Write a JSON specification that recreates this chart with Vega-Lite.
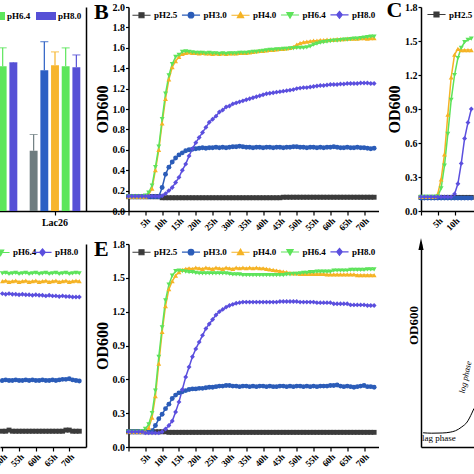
{
  "$schema": "https://vega.github.io/schema/vega-lite/v6.json",
  "padding": {"left": -15, "top": -1, "right": 0, "bottom": 0},
  "background": "white",
  "config": {
    "font": "Liberation Serif",
    "view": {"stroke": null},
    "axis": {"labelFont": "Liberation Serif", "labelFontWeight": "bold", "labelColor": "black", "titleFont": "Liberation Serif", "titleFontWeight": "bold", "titleColor": "black", "domainColor": "black", "tickColor": "black", "grid": false, "domainWidth": 1.5, "tickWidth": 1.2},
    "legend": {"labelFont": "Liberation Serif", "labelFontWeight": "bold", "labelColor": "black", "labelFontSize": 9},
    "title": {"font": "Liberation Serif", "fontWeight": "bold", "fontSize": 22, "color": "black", "anchor": "start", "frame": "bounds"},
    "point": {"filled": true, "size": 24, "opacity": 1}
  },
  "datasets": {
    "bars": [
      {"g": "Lac24", "s": "pH6.4", "v": 1.42, "e": 1.60},
      {"g": "Lac24", "s": "pH8.0", "v": 1.45, "e": 1.455},
      {"g": "Lac26", "s": "pH2.5", "v": 0.59, "e": 0.75},
      {"g": "Lac26", "s": "pH3.0", "v": 1.38, "e": 1.66},
      {"g": "Lac26", "s": "pH4.0", "v": 1.43, "e": 1.56},
      {"g": "Lac26", "s": "pH6.4", "v": 1.42, "e": 1.60},
      {"g": "Lac26", "s": "pH8.0", "v": 1.41, "e": 1.53}
    ],
    "lac16": [
      {"h":0,"s":"pH2.5","v":0.14},{"h":1,"s":"pH2.5","v":0.14},{"h":2,"s":"pH2.5","v":0.14},{"h":3,"s":"pH2.5","v":0.14},{"h":4,"s":"pH2.5","v":0.14},{"h":5,"s":"pH2.5","v":0.14},{"h":6,"s":"pH2.5","v":0.14},{"h":7,"s":"pH2.5","v":0.14},{"h":8,"s":"pH2.5","v":0.14},{"h":9,"s":"pH2.5","v":0.14},
      {"h":10,"s":"pH2.5","v":0.13},{"h":11,"s":"pH2.5","v":0.13},{"h":12,"s":"pH2.5","v":0.13},{"h":13,"s":"pH2.5","v":0.13},{"h":14,"s":"pH2.5","v":0.13},{"h":15,"s":"pH2.5","v":0.13},{"h":16,"s":"pH2.5","v":0.13},{"h":17,"s":"pH2.5","v":0.13},{"h":18,"s":"pH2.5","v":0.13},{"h":19,"s":"pH2.5","v":0.13},
      {"h":20,"s":"pH2.5","v":0.13},{"h":21,"s":"pH2.5","v":0.13},{"h":22,"s":"pH2.5","v":0.13},{"h":23,"s":"pH2.5","v":0.13},{"h":24,"s":"pH2.5","v":0.13},{"h":25,"s":"pH2.5","v":0.13},{"h":26,"s":"pH2.5","v":0.13},{"h":27,"s":"pH2.5","v":0.13},{"h":28,"s":"pH2.5","v":0.13},{"h":29,"s":"pH2.5","v":0.13},
      {"h":30,"s":"pH2.5","v":0.13},{"h":31,"s":"pH2.5","v":0.13},{"h":32,"s":"pH2.5","v":0.13},{"h":33,"s":"pH2.5","v":0.13},{"h":34,"s":"pH2.5","v":0.13},{"h":35,"s":"pH2.5","v":0.13},{"h":36,"s":"pH2.5","v":0.13},{"h":37,"s":"pH2.5","v":0.13},{"h":38,"s":"pH2.5","v":0.13},{"h":39,"s":"pH2.5","v":0.13},
      {"h":40,"s":"pH2.5","v":0.13},{"h":41,"s":"pH2.5","v":0.13},{"h":42,"s":"pH2.5","v":0.13},{"h":43,"s":"pH2.5","v":0.13},{"h":44,"s":"pH2.5","v":0.13},{"h":45,"s":"pH2.5","v":0.13},{"h":46,"s":"pH2.5","v":0.135},{"h":47,"s":"pH2.5","v":0.135},{"h":48,"s":"pH2.5","v":0.135},{"h":49,"s":"pH2.5","v":0.135},
      {"h":50,"s":"pH2.5","v":0.135},{"h":51,"s":"pH2.5","v":0.135},{"h":52,"s":"pH2.5","v":0.135},{"h":53,"s":"pH2.5","v":0.135},{"h":54,"s":"pH2.5","v":0.135},{"h":55,"s":"pH2.5","v":0.135},{"h":56,"s":"pH2.5","v":0.135},{"h":57,"s":"pH2.5","v":0.135},{"h":58,"s":"pH2.5","v":0.135},{"h":59,"s":"pH2.5","v":0.135},
      {"h":60,"s":"pH2.5","v":0.135},{"h":61,"s":"pH2.5","v":0.135},{"h":62,"s":"pH2.5","v":0.135},{"h":63,"s":"pH2.5","v":0.135},{"h":64,"s":"pH2.5","v":0.135},{"h":65,"s":"pH2.5","v":0.135},{"h":66,"s":"pH2.5","v":0.135},{"h":67,"s":"pH2.5","v":0.135},{"h":68,"s":"pH2.5","v":0.135},{"h":69,"s":"pH2.5","v":0.135},
      {"h":70,"s":"pH2.5","v":0.135},{"h":71,"s":"pH2.5","v":0.135},{"h":72,"s":"pH2.5","v":0.135},{"h":73,"s":"pH2.5","v":0.135},

      {"h":0,"s":"pH3.0","v":0.14},{"h":1,"s":"pH3.0","v":0.14},{"h":2,"s":"pH3.0","v":0.14},{"h":3,"s":"pH3.0","v":0.14},{"h":4,"s":"pH3.0","v":0.14},{"h":5,"s":"pH3.0","v":0.14},{"h":6,"s":"pH3.0","v":0.14},{"h":7,"s":"pH3.0","v":0.14},{"h":8,"s":"pH3.0","v":0.14},{"h":9,"s":"pH3.0","v":0.14},
      {"h":10,"s":"pH3.0","v":0.23},{"h":11,"s":"pH3.0","v":0.36},{"h":12,"s":"pH3.0","v":0.43},{"h":13,"s":"pH3.0","v":0.48},{"h":14,"s":"pH3.0","v":0.52},{"h":15,"s":"pH3.0","v":0.55},{"h":16,"s":"pH3.0","v":0.57},{"h":17,"s":"pH3.0","v":0.59},{"h":18,"s":"pH3.0","v":0.60},{"h":19,"s":"pH3.0","v":0.605},
      {"h":20,"s":"pH3.0","v":0.61},{"h":21,"s":"pH3.0","v":0.615},{"h":22,"s":"pH3.0","v":0.62},{"h":23,"s":"pH3.0","v":0.615},{"h":24,"s":"pH3.0","v":0.62},{"h":25,"s":"pH3.0","v":0.62},{"h":26,"s":"pH3.0","v":0.625},{"h":27,"s":"pH3.0","v":0.62},{"h":28,"s":"pH3.0","v":0.625},{"h":29,"s":"pH3.0","v":0.62},
      {"h":30,"s":"pH3.0","v":0.625},{"h":31,"s":"pH3.0","v":0.63},{"h":32,"s":"pH3.0","v":0.63},{"h":33,"s":"pH3.0","v":0.635},{"h":34,"s":"pH3.0","v":0.63},{"h":35,"s":"pH3.0","v":0.625},{"h":36,"s":"pH3.0","v":0.625},{"h":37,"s":"pH3.0","v":0.62},{"h":38,"s":"pH3.0","v":0.625},{"h":39,"s":"pH3.0","v":0.625},
      {"h":40,"s":"pH3.0","v":0.62},{"h":41,"s":"pH3.0","v":0.625},{"h":42,"s":"pH3.0","v":0.625},{"h":43,"s":"pH3.0","v":0.62},{"h":44,"s":"pH3.0","v":0.625},{"h":45,"s":"pH3.0","v":0.625},{"h":46,"s":"pH3.0","v":0.62},{"h":47,"s":"pH3.0","v":0.625},{"h":48,"s":"pH3.0","v":0.625},{"h":49,"s":"pH3.0","v":0.63},
      {"h":50,"s":"pH3.0","v":0.63},{"h":51,"s":"pH3.0","v":0.625},{"h":52,"s":"pH3.0","v":0.625},{"h":53,"s":"pH3.0","v":0.62},{"h":54,"s":"pH3.0","v":0.625},{"h":55,"s":"pH3.0","v":0.625},{"h":56,"s":"pH3.0","v":0.62},{"h":57,"s":"pH3.0","v":0.625},{"h":58,"s":"pH3.0","v":0.62},{"h":59,"s":"pH3.0","v":0.625},
      {"h":60,"s":"pH3.0","v":0.625},{"h":61,"s":"pH3.0","v":0.63},{"h":62,"s":"pH3.0","v":0.625},{"h":63,"s":"pH3.0","v":0.62},{"h":64,"s":"pH3.0","v":0.62},{"h":65,"s":"pH3.0","v":0.625},{"h":66,"s":"pH3.0","v":0.62},{"h":67,"s":"pH3.0","v":0.62},{"h":68,"s":"pH3.0","v":0.625},{"h":69,"s":"pH3.0","v":0.62},
      {"h":70,"s":"pH3.0","v":0.62},{"h":71,"s":"pH3.0","v":0.615},{"h":72,"s":"pH3.0","v":0.61},{"h":73,"s":"pH3.0","v":0.615},

      {"h":0,"s":"pH4.0","v":0.14},{"h":1,"s":"pH4.0","v":0.14},{"h":2,"s":"pH4.0","v":0.14},{"h":3,"s":"pH4.0","v":0.14},{"h":4,"s":"pH4.0","v":0.14},{"h":5,"s":"pH4.0","v":0.14},{"h":6,"s":"pH4.0","v":0.16},{"h":7,"s":"pH4.0","v":0.22},{"h":8,"s":"pH4.0","v":0.40},{"h":9,"s":"pH4.0","v":0.60},
      {"h":10,"s":"pH4.0","v":0.86},{"h":11,"s":"pH4.0","v":1.10},{"h":12,"s":"pH4.0","v":1.29},{"h":13,"s":"pH4.0","v":1.41},{"h":14,"s":"pH4.0","v":1.47},{"h":15,"s":"pH4.0","v":1.51},{"h":16,"s":"pH4.0","v":1.54},{"h":17,"s":"pH4.0","v":1.55},{"h":18,"s":"pH4.0","v":1.555},{"h":19,"s":"pH4.0","v":1.55},
      {"h":20,"s":"pH4.0","v":1.55},{"h":21,"s":"pH4.0","v":1.545},{"h":22,"s":"pH4.0","v":1.55},{"h":23,"s":"pH4.0","v":1.545},{"h":24,"s":"pH4.0","v":1.545},{"h":25,"s":"pH4.0","v":1.54},{"h":26,"s":"pH4.0","v":1.545},{"h":27,"s":"pH4.0","v":1.54},{"h":28,"s":"pH4.0","v":1.545},{"h":29,"s":"pH4.0","v":1.54},
      {"h":30,"s":"pH4.0","v":1.545},{"h":31,"s":"pH4.0","v":1.545},{"h":32,"s":"pH4.0","v":1.545},{"h":33,"s":"pH4.0","v":1.55},{"h":34,"s":"pH4.0","v":1.55},{"h":35,"s":"pH4.0","v":1.55},{"h":36,"s":"pH4.0","v":1.555},{"h":37,"s":"pH4.0","v":1.56},{"h":38,"s":"pH4.0","v":1.565},{"h":39,"s":"pH4.0","v":1.57},
      {"h":40,"s":"pH4.0","v":1.57},{"h":41,"s":"pH4.0","v":1.575},{"h":42,"s":"pH4.0","v":1.58},{"h":43,"s":"pH4.0","v":1.58},{"h":44,"s":"pH4.0","v":1.585},{"h":45,"s":"pH4.0","v":1.59},{"h":46,"s":"pH4.0","v":1.59},{"h":47,"s":"pH4.0","v":1.595},{"h":48,"s":"pH4.0","v":1.60},{"h":49,"s":"pH4.0","v":1.61},
      {"h":50,"s":"pH4.0","v":1.63},{"h":51,"s":"pH4.0","v":1.645},{"h":52,"s":"pH4.0","v":1.655},{"h":53,"s":"pH4.0","v":1.66},{"h":54,"s":"pH4.0","v":1.665},{"h":55,"s":"pH4.0","v":1.67},{"h":56,"s":"pH4.0","v":1.67},{"h":57,"s":"pH4.0","v":1.675},{"h":58,"s":"pH4.0","v":1.675},{"h":59,"s":"pH4.0","v":1.68},
      {"h":60,"s":"pH4.0","v":1.68},{"h":61,"s":"pH4.0","v":1.68},{"h":62,"s":"pH4.0","v":1.685},{"h":63,"s":"pH4.0","v":1.685},{"h":64,"s":"pH4.0","v":1.685},{"h":65,"s":"pH4.0","v":1.69},{"h":66,"s":"pH4.0","v":1.69},{"h":67,"s":"pH4.0","v":1.69},{"h":68,"s":"pH4.0","v":1.69},{"h":69,"s":"pH4.0","v":1.695},
      {"h":70,"s":"pH4.0","v":1.695},{"h":71,"s":"pH4.0","v":1.69},{"h":72,"s":"pH4.0","v":1.695},{"h":73,"s":"pH4.0","v":1.695},

      {"h":0,"s":"pH6.4","v":0.14},{"h":1,"s":"pH6.4","v":0.14},{"h":2,"s":"pH6.4","v":0.14},{"h":3,"s":"pH6.4","v":0.14},{"h":4,"s":"pH6.4","v":0.14},{"h":5,"s":"pH6.4","v":0.15},{"h":6,"s":"pH6.4","v":0.18},{"h":7,"s":"pH6.4","v":0.25},{"h":8,"s":"pH6.4","v":0.43},{"h":9,"s":"pH6.4","v":0.63},
      {"h":10,"s":"pH6.4","v":0.90},{"h":11,"s":"pH6.4","v":1.15},{"h":12,"s":"pH6.4","v":1.33},{"h":13,"s":"pH6.4","v":1.44},{"h":14,"s":"pH6.4","v":1.51},{"h":15,"s":"pH6.4","v":1.53},{"h":16,"s":"pH6.4","v":1.56},{"h":17,"s":"pH6.4","v":1.565},{"h":18,"s":"pH6.4","v":1.56},{"h":19,"s":"pH6.4","v":1.555},
      {"h":20,"s":"pH6.4","v":1.55},{"h":21,"s":"pH6.4","v":1.55},{"h":22,"s":"pH6.4","v":1.55},{"h":23,"s":"pH6.4","v":1.545},{"h":24,"s":"pH6.4","v":1.55},{"h":25,"s":"pH6.4","v":1.545},{"h":26,"s":"pH6.4","v":1.545},{"h":27,"s":"pH6.4","v":1.54},{"h":28,"s":"pH6.4","v":1.545},{"h":29,"s":"pH6.4","v":1.54},
      {"h":30,"s":"pH6.4","v":1.545},{"h":31,"s":"pH6.4","v":1.545},{"h":32,"s":"pH6.4","v":1.545},{"h":33,"s":"pH6.4","v":1.55},{"h":34,"s":"pH6.4","v":1.55},{"h":35,"s":"pH6.4","v":1.55},{"h":36,"s":"pH6.4","v":1.555},{"h":37,"s":"pH6.4","v":1.56},{"h":38,"s":"pH6.4","v":1.56},{"h":39,"s":"pH6.4","v":1.565},
      {"h":40,"s":"pH6.4","v":1.57},{"h":41,"s":"pH6.4","v":1.575},{"h":42,"s":"pH6.4","v":1.58},{"h":43,"s":"pH6.4","v":1.58},{"h":44,"s":"pH6.4","v":1.585},{"h":45,"s":"pH6.4","v":1.585},{"h":46,"s":"pH6.4","v":1.59},{"h":47,"s":"pH6.4","v":1.59},{"h":48,"s":"pH6.4","v":1.595},{"h":49,"s":"pH6.4","v":1.595},
      {"h":50,"s":"pH6.4","v":1.60},{"h":51,"s":"pH6.4","v":1.60},{"h":52,"s":"pH6.4","v":1.60},{"h":53,"s":"pH6.4","v":1.605},{"h":54,"s":"pH6.4","v":1.615},{"h":55,"s":"pH6.4","v":1.63},{"h":56,"s":"pH6.4","v":1.64},{"h":57,"s":"pH6.4","v":1.65},{"h":58,"s":"pH6.4","v":1.655},{"h":59,"s":"pH6.4","v":1.66},
      {"h":60,"s":"pH6.4","v":1.665},{"h":61,"s":"pH6.4","v":1.67},{"h":62,"s":"pH6.4","v":1.67},{"h":63,"s":"pH6.4","v":1.675},{"h":64,"s":"pH6.4","v":1.68},{"h":65,"s":"pH6.4","v":1.68},{"h":66,"s":"pH6.4","v":1.685},{"h":67,"s":"pH6.4","v":1.69},{"h":68,"s":"pH6.4","v":1.69},{"h":69,"s":"pH6.4","v":1.695},
      {"h":70,"s":"pH6.4","v":1.70},{"h":71,"s":"pH6.4","v":1.705},{"h":72,"s":"pH6.4","v":1.71},{"h":73,"s":"pH6.4","v":1.71},

      {"h":0,"s":"pH8.0","v":0.145},{"h":1,"s":"pH8.0","v":0.145},{"h":2,"s":"pH8.0","v":0.145},{"h":3,"s":"pH8.0","v":0.145},{"h":4,"s":"pH8.0","v":0.145},{"h":5,"s":"pH8.0","v":0.145},{"h":6,"s":"pH8.0","v":0.145},{"h":7,"s":"pH8.0","v":0.145},{"h":8,"s":"pH8.0","v":0.145},{"h":9,"s":"pH8.0","v":0.145},
      {"h":10,"s":"pH8.0","v":0.15},{"h":11,"s":"pH8.0","v":0.17},{"h":12,"s":"pH8.0","v":0.20},{"h":13,"s":"pH8.0","v":0.23},{"h":14,"s":"pH8.0","v":0.28},{"h":15,"s":"pH8.0","v":0.33},{"h":16,"s":"pH8.0","v":0.40},{"h":17,"s":"pH8.0","v":0.46},{"h":18,"s":"pH8.0","v":0.54},{"h":19,"s":"pH8.0","v":0.61},
      {"h":20,"s":"pH8.0","v":0.67},{"h":21,"s":"pH8.0","v":0.72},{"h":22,"s":"pH8.0","v":0.77},{"h":23,"s":"pH8.0","v":0.82},{"h":24,"s":"pH8.0","v":0.87},{"h":25,"s":"pH8.0","v":0.90},{"h":26,"s":"pH8.0","v":0.93},{"h":27,"s":"pH8.0","v":0.97},{"h":28,"s":"pH8.0","v":0.99},{"h":29,"s":"pH8.0","v":1.02},
      {"h":30,"s":"pH8.0","v":1.03},{"h":31,"s":"pH8.0","v":1.05},{"h":32,"s":"pH8.0","v":1.06},{"h":33,"s":"pH8.0","v":1.07},{"h":34,"s":"pH8.0","v":1.08},{"h":35,"s":"pH8.0","v":1.09},{"h":36,"s":"pH8.0","v":1.10},{"h":37,"s":"pH8.0","v":1.11},{"h":38,"s":"pH8.0","v":1.12},{"h":39,"s":"pH8.0","v":1.13},
      {"h":40,"s":"pH8.0","v":1.14},{"h":41,"s":"pH8.0","v":1.15},{"h":42,"s":"pH8.0","v":1.155},{"h":43,"s":"pH8.0","v":1.16},{"h":44,"s":"pH8.0","v":1.165},{"h":45,"s":"pH8.0","v":1.17},{"h":46,"s":"pH8.0","v":1.175},{"h":47,"s":"pH8.0","v":1.18},{"h":48,"s":"pH8.0","v":1.185},{"h":49,"s":"pH8.0","v":1.19},
      {"h":50,"s":"pH8.0","v":1.20},{"h":51,"s":"pH8.0","v":1.205},{"h":52,"s":"pH8.0","v":1.21},{"h":53,"s":"pH8.0","v":1.21},{"h":54,"s":"pH8.0","v":1.215},{"h":55,"s":"pH8.0","v":1.22},{"h":56,"s":"pH8.0","v":1.225},{"h":57,"s":"pH8.0","v":1.23},{"h":58,"s":"pH8.0","v":1.23},{"h":59,"s":"pH8.0","v":1.235},
      {"h":60,"s":"pH8.0","v":1.24},{"h":61,"s":"pH8.0","v":1.24},{"h":62,"s":"pH8.0","v":1.24},{"h":63,"s":"pH8.0","v":1.245},{"h":64,"s":"pH8.0","v":1.245},{"h":65,"s":"pH8.0","v":1.25},{"h":66,"s":"pH8.0","v":1.25},{"h":67,"s":"pH8.0","v":1.25},{"h":68,"s":"pH8.0","v":1.25},{"h":69,"s":"pH8.0","v":1.255},
      {"h":70,"s":"pH8.0","v":1.255},{"h":71,"s":"pH8.0","v":1.255},{"h":72,"s":"pH8.0","v":1.25},{"h":73,"s":"pH8.0","v":1.25}
    ],
    "lac22": [
      {"h":0,"s":"pH2.5","v":0.12},{"h":1,"s":"pH2.5","v":0.12},{"h":2,"s":"pH2.5","v":0.12},{"h":3,"s":"pH2.5","v":0.12},{"h":4,"s":"pH2.5","v":0.12},{"h":5,"s":"pH2.5","v":0.12},{"h":6,"s":"pH2.5","v":0.12},{"h":7,"s":"pH2.5","v":0.12},
      {"h":8,"s":"pH2.5","v":0.12},{"h":9,"s":"pH2.5","v":0.12},{"h":10,"s":"pH2.5","v":0.12},{"h":11,"s":"pH2.5","v":0.12},{"h":12,"s":"pH2.5","v":0.12},{"h":13,"s":"pH2.5","v":0.12},{"h":14,"s":"pH2.5","v":0.12},{"h":15,"s":"pH2.5","v":0.12},
      {"h":0,"s":"pH3.0","v":0.115},{"h":1,"s":"pH3.0","v":0.115},{"h":2,"s":"pH3.0","v":0.115},{"h":3,"s":"pH3.0","v":0.115},{"h":4,"s":"pH3.0","v":0.115},{"h":5,"s":"pH3.0","v":0.115},{"h":6,"s":"pH3.0","v":0.115},{"h":7,"s":"pH3.0","v":0.115},
      {"h":8,"s":"pH3.0","v":0.115},{"h":9,"s":"pH3.0","v":0.115},{"h":10,"s":"pH3.0","v":0.115},{"h":11,"s":"pH3.0","v":0.115},{"h":12,"s":"pH3.0","v":0.115},{"h":13,"s":"pH3.0","v":0.115},{"h":14,"s":"pH3.0","v":0.115},{"h":15,"s":"pH3.0","v":0.115},
      {"h":0,"s":"pH4.0","v":0.125},{"h":1,"s":"pH4.0","v":0.125},{"h":2,"s":"pH4.0","v":0.125},{"h":3,"s":"pH4.0","v":0.125},{"h":4,"s":"pH4.0","v":0.125},{"h":5,"s":"pH4.0","v":0.15},{"h":6,"s":"pH4.0","v":0.28},{"h":7,"s":"pH4.0","v":0.50},
      {"h":8,"s":"pH4.0","v":0.85},{"h":9,"s":"pH4.0","v":1.18},{"h":10,"s":"pH4.0","v":1.38},{"h":11,"s":"pH4.0","v":1.43},{"h":12,"s":"pH4.0","v":1.42},{"h":13,"s":"pH4.0","v":1.42},{"h":14,"s":"pH4.0","v":1.42},{"h":15,"s":"pH4.0","v":1.42},
      {"h":0,"s":"pH6.4","v":0.125},{"h":1,"s":"pH6.4","v":0.125},{"h":2,"s":"pH6.4","v":0.125},{"h":3,"s":"pH6.4","v":0.125},{"h":4,"s":"pH6.4","v":0.125},{"h":5,"s":"pH6.4","v":0.13},{"h":6,"s":"pH6.4","v":0.20},{"h":7,"s":"pH6.4","v":0.40},
      {"h":8,"s":"pH6.4","v":0.68},{"h":9,"s":"pH6.4","v":0.98},{"h":10,"s":"pH6.4","v":1.20},{"h":11,"s":"pH6.4","v":1.35},{"h":12,"s":"pH6.4","v":1.44},{"h":13,"s":"pH6.4","v":1.49},{"h":14,"s":"pH6.4","v":1.51},{"h":15,"s":"pH6.4","v":1.52},
      {"h":0,"s":"pH8.0","v":0.125},{"h":1,"s":"pH8.0","v":0.125},{"h":2,"s":"pH8.0","v":0.125},{"h":3,"s":"pH8.0","v":0.125},{"h":4,"s":"pH8.0","v":0.125},{"h":5,"s":"pH8.0","v":0.125},{"h":6,"s":"pH8.0","v":0.125},{"h":7,"s":"pH8.0","v":0.125},
      {"h":8,"s":"pH8.0","v":0.125},{"h":9,"s":"pH8.0","v":0.125},{"h":10,"s":"pH8.0","v":0.15},{"h":11,"s":"pH8.0","v":0.24},{"h":12,"s":"pH8.0","v":0.42},{"h":13,"s":"pH8.0","v":0.64},{"h":14,"s":"pH8.0","v":0.78},{"h":15,"s":"pH8.0","v":0.90}
    ],
    "lac24": [
      {"h":50,"s":"pH2.5","v":0.14},{"h":51,"s":"pH2.5","v":0.14},{"h":52,"s":"pH2.5","v":0.15},{"h":53,"s":"pH2.5","v":0.14},{"h":54,"s":"pH2.5","v":0.14},{"h":55,"s":"pH2.5","v":0.14},{"h":56,"s":"pH2.5","v":0.14},{"h":57,"s":"pH2.5","v":0.14},
      {"h":58,"s":"pH2.5","v":0.14},{"h":59,"s":"pH2.5","v":0.14},{"h":60,"s":"pH2.5","v":0.14},{"h":61,"s":"pH2.5","v":0.14},{"h":62,"s":"pH2.5","v":0.14},{"h":63,"s":"pH2.5","v":0.14},{"h":64,"s":"pH2.5","v":0.14},{"h":65,"s":"pH2.5","v":0.14},
      {"h":66,"s":"pH2.5","v":0.14},{"h":67,"s":"pH2.5","v":0.14},{"h":68,"s":"pH2.5","v":0.14},{"h":69,"s":"pH2.5","v":0.15},{"h":70,"s":"pH2.5","v":0.15},{"h":71,"s":"pH2.5","v":0.14},{"h":72,"s":"pH2.5","v":0.14},{"h":73,"s":"pH2.5","v":0.14},
      {"h":50,"s":"pH3.0","v":0.59},{"h":51,"s":"pH3.0","v":0.595},{"h":52,"s":"pH3.0","v":0.59},{"h":53,"s":"pH3.0","v":0.59},{"h":54,"s":"pH3.0","v":0.595},{"h":55,"s":"pH3.0","v":0.59},{"h":56,"s":"pH3.0","v":0.59},{"h":57,"s":"pH3.0","v":0.595},
      {"h":58,"s":"pH3.0","v":0.59},{"h":59,"s":"pH3.0","v":0.595},{"h":60,"s":"pH3.0","v":0.59},{"h":61,"s":"pH3.0","v":0.59},{"h":62,"s":"pH3.0","v":0.595},{"h":63,"s":"pH3.0","v":0.59},{"h":64,"s":"pH3.0","v":0.59},{"h":65,"s":"pH3.0","v":0.595},
      {"h":66,"s":"pH3.0","v":0.59},{"h":67,"s":"pH3.0","v":0.595},{"h":68,"s":"pH3.0","v":0.60},{"h":69,"s":"pH3.0","v":0.60},{"h":70,"s":"pH3.0","v":0.605},{"h":71,"s":"pH3.0","v":0.595},{"h":72,"s":"pH3.0","v":0.59},{"h":73,"s":"pH3.0","v":0.585},
      {"h":50,"s":"pH4.0","v":1.47},{"h":51,"s":"pH4.0","v":1.475},{"h":52,"s":"pH4.0","v":1.465},{"h":53,"s":"pH4.0","v":1.47},{"h":54,"s":"pH4.0","v":1.475},{"h":55,"s":"pH4.0","v":1.465},{"h":56,"s":"pH4.0","v":1.47},{"h":57,"s":"pH4.0","v":1.475},
      {"h":58,"s":"pH4.0","v":1.465},{"h":59,"s":"pH4.0","v":1.47},{"h":60,"s":"pH4.0","v":1.475},{"h":61,"s":"pH4.0","v":1.465},{"h":62,"s":"pH4.0","v":1.47},{"h":63,"s":"pH4.0","v":1.475},{"h":64,"s":"pH4.0","v":1.465},{"h":65,"s":"pH4.0","v":1.47},
      {"h":66,"s":"pH4.0","v":1.475},{"h":67,"s":"pH4.0","v":1.465},{"h":68,"s":"pH4.0","v":1.47},{"h":69,"s":"pH4.0","v":1.475},{"h":70,"s":"pH4.0","v":1.465},{"h":71,"s":"pH4.0","v":1.47},{"h":72,"s":"pH4.0","v":1.475},{"h":73,"s":"pH4.0","v":1.47},
      {"h":50,"s":"pH6.4","v":1.54},{"h":51,"s":"pH6.4","v":1.545},{"h":52,"s":"pH6.4","v":1.535},{"h":53,"s":"pH6.4","v":1.54},{"h":54,"s":"pH6.4","v":1.545},{"h":55,"s":"pH6.4","v":1.535},{"h":56,"s":"pH6.4","v":1.54},{"h":57,"s":"pH6.4","v":1.545},
      {"h":58,"s":"pH6.4","v":1.535},{"h":59,"s":"pH6.4","v":1.54},{"h":60,"s":"pH6.4","v":1.545},{"h":61,"s":"pH6.4","v":1.535},{"h":62,"s":"pH6.4","v":1.54},{"h":63,"s":"pH6.4","v":1.545},{"h":64,"s":"pH6.4","v":1.535},{"h":65,"s":"pH6.4","v":1.54},
      {"h":66,"s":"pH6.4","v":1.545},{"h":67,"s":"pH6.4","v":1.535},{"h":68,"s":"pH6.4","v":1.54},{"h":69,"s":"pH6.4","v":1.545},{"h":70,"s":"pH6.4","v":1.535},{"h":71,"s":"pH6.4","v":1.54},{"h":72,"s":"pH6.4","v":1.545},{"h":73,"s":"pH6.4","v":1.54},
      {"h":50,"s":"pH8.0","v":1.36},{"h":51,"s":"pH8.0","v":1.355},{"h":52,"s":"pH8.0","v":1.36},{"h":53,"s":"pH8.0","v":1.355},{"h":54,"s":"pH8.0","v":1.355},{"h":55,"s":"pH8.0","v":1.35},{"h":56,"s":"pH8.0","v":1.355},{"h":57,"s":"pH8.0","v":1.35},
      {"h":58,"s":"pH8.0","v":1.35},{"h":59,"s":"pH8.0","v":1.345},{"h":60,"s":"pH8.0","v":1.35},{"h":61,"s":"pH8.0","v":1.345},{"h":62,"s":"pH8.0","v":1.345},{"h":63,"s":"pH8.0","v":1.34},{"h":64,"s":"pH8.0","v":1.345},{"h":65,"s":"pH8.0","v":1.34},
      {"h":66,"s":"pH8.0","v":1.34},{"h":67,"s":"pH8.0","v":1.335},{"h":68,"s":"pH8.0","v":1.34},{"h":69,"s":"pH8.0","v":1.335},{"h":70,"s":"pH8.0","v":1.335},{"h":71,"s":"pH8.0","v":1.33},{"h":72,"s":"pH8.0","v":1.33},{"h":73,"s":"pH8.0","v":1.33}
    ],
    "lac26": [
      {"h":0,"s":"pH2.5","v":0.135},{"h":1,"s":"pH2.5","v":0.135},{"h":2,"s":"pH2.5","v":0.135},{"h":3,"s":"pH2.5","v":0.135},{"h":4,"s":"pH2.5","v":0.135},{"h":5,"s":"pH2.5","v":0.135},{"h":6,"s":"pH2.5","v":0.135},{"h":7,"s":"pH2.5","v":0.135},{"h":8,"s":"pH2.5","v":0.135},{"h":9,"s":"pH2.5","v":0.135},
      {"h":10,"s":"pH2.5","v":0.135},{"h":11,"s":"pH2.5","v":0.135},{"h":12,"s":"pH2.5","v":0.13},{"h":13,"s":"pH2.5","v":0.13},{"h":14,"s":"pH2.5","v":0.13},{"h":15,"s":"pH2.5","v":0.13},{"h":16,"s":"pH2.5","v":0.13},{"h":17,"s":"pH2.5","v":0.13},{"h":18,"s":"pH2.5","v":0.13},{"h":19,"s":"pH2.5","v":0.13},
      {"h":20,"s":"pH2.5","v":0.13},{"h":21,"s":"pH2.5","v":0.13},{"h":22,"s":"pH2.5","v":0.13},{"h":23,"s":"pH2.5","v":0.13},{"h":24,"s":"pH2.5","v":0.13},{"h":25,"s":"pH2.5","v":0.13},{"h":26,"s":"pH2.5","v":0.13},{"h":27,"s":"pH2.5","v":0.13},{"h":28,"s":"pH2.5","v":0.13},{"h":29,"s":"pH2.5","v":0.13},
      {"h":30,"s":"pH2.5","v":0.13},{"h":31,"s":"pH2.5","v":0.13},{"h":32,"s":"pH2.5","v":0.13},{"h":33,"s":"pH2.5","v":0.13},{"h":34,"s":"pH2.5","v":0.13},{"h":35,"s":"pH2.5","v":0.13},{"h":36,"s":"pH2.5","v":0.13},{"h":37,"s":"pH2.5","v":0.13},{"h":38,"s":"pH2.5","v":0.13},{"h":39,"s":"pH2.5","v":0.13},
      {"h":40,"s":"pH2.5","v":0.13},{"h":41,"s":"pH2.5","v":0.13},{"h":42,"s":"pH2.5","v":0.13},{"h":43,"s":"pH2.5","v":0.13},{"h":44,"s":"pH2.5","v":0.13},{"h":45,"s":"pH2.5","v":0.13},{"h":46,"s":"pH2.5","v":0.13},{"h":47,"s":"pH2.5","v":0.13},{"h":48,"s":"pH2.5","v":0.13},{"h":49,"s":"pH2.5","v":0.13},
      {"h":50,"s":"pH2.5","v":0.13},{"h":51,"s":"pH2.5","v":0.13},{"h":52,"s":"pH2.5","v":0.13},{"h":53,"s":"pH2.5","v":0.13},{"h":54,"s":"pH2.5","v":0.13},{"h":55,"s":"pH2.5","v":0.13},{"h":56,"s":"pH2.5","v":0.13},{"h":57,"s":"pH2.5","v":0.13},{"h":58,"s":"pH2.5","v":0.13},{"h":59,"s":"pH2.5","v":0.13},
      {"h":60,"s":"pH2.5","v":0.13},{"h":61,"s":"pH2.5","v":0.13},{"h":62,"s":"pH2.5","v":0.13},{"h":63,"s":"pH2.5","v":0.13},{"h":64,"s":"pH2.5","v":0.13},{"h":65,"s":"pH2.5","v":0.13},{"h":66,"s":"pH2.5","v":0.13},{"h":67,"s":"pH2.5","v":0.13},{"h":68,"s":"pH2.5","v":0.13},{"h":69,"s":"pH2.5","v":0.13},
      {"h":70,"s":"pH2.5","v":0.13},{"h":71,"s":"pH2.5","v":0.13},{"h":72,"s":"pH2.5","v":0.13},{"h":73,"s":"pH2.5","v":0.13},

      {"h":0,"s":"pH3.0","v":0.135},{"h":1,"s":"pH3.0","v":0.135},{"h":2,"s":"pH3.0","v":0.135},{"h":3,"s":"pH3.0","v":0.135},{"h":4,"s":"pH3.0","v":0.135},{"h":5,"s":"pH3.0","v":0.135},{"h":6,"s":"pH3.0","v":0.135},{"h":7,"s":"pH3.0","v":0.145},{"h":8,"s":"pH3.0","v":0.19},{"h":9,"s":"pH3.0","v":0.25},
      {"h":10,"s":"pH3.0","v":0.29},{"h":11,"s":"pH3.0","v":0.34},{"h":12,"s":"pH3.0","v":0.38},{"h":13,"s":"pH3.0","v":0.43},{"h":14,"s":"pH3.0","v":0.46},{"h":15,"s":"pH3.0","v":0.48},{"h":16,"s":"pH3.0","v":0.49},{"h":17,"s":"pH3.0","v":0.50},{"h":18,"s":"pH3.0","v":0.51},{"h":19,"s":"pH3.0","v":0.515},
      {"h":20,"s":"pH3.0","v":0.515},{"h":21,"s":"pH3.0","v":0.52},{"h":22,"s":"pH3.0","v":0.52},{"h":23,"s":"pH3.0","v":0.525},{"h":24,"s":"pH3.0","v":0.53},{"h":25,"s":"pH3.0","v":0.53},{"h":26,"s":"pH3.0","v":0.535},{"h":27,"s":"pH3.0","v":0.54},{"h":28,"s":"pH3.0","v":0.54},{"h":29,"s":"pH3.0","v":0.545},
      {"h":30,"s":"pH3.0","v":0.545},{"h":31,"s":"pH3.0","v":0.54},{"h":32,"s":"pH3.0","v":0.54},{"h":33,"s":"pH3.0","v":0.535},{"h":34,"s":"pH3.0","v":0.54},{"h":35,"s":"pH3.0","v":0.54},{"h":36,"s":"pH3.0","v":0.535},{"h":37,"s":"pH3.0","v":0.54},{"h":38,"s":"pH3.0","v":0.535},{"h":39,"s":"pH3.0","v":0.54},
      {"h":40,"s":"pH3.0","v":0.54},{"h":41,"s":"pH3.0","v":0.535},{"h":42,"s":"pH3.0","v":0.54},{"h":43,"s":"pH3.0","v":0.535},{"h":44,"s":"pH3.0","v":0.535},{"h":45,"s":"pH3.0","v":0.54},{"h":46,"s":"pH3.0","v":0.54},{"h":47,"s":"pH3.0","v":0.535},{"h":48,"s":"pH3.0","v":0.54},{"h":49,"s":"pH3.0","v":0.535},
      {"h":50,"s":"pH3.0","v":0.54},{"h":51,"s":"pH3.0","v":0.54},{"h":52,"s":"pH3.0","v":0.535},{"h":53,"s":"pH3.0","v":0.54},{"h":54,"s":"pH3.0","v":0.535},{"h":55,"s":"pH3.0","v":0.54},{"h":56,"s":"pH3.0","v":0.535},{"h":57,"s":"pH3.0","v":0.54},{"h":58,"s":"pH3.0","v":0.54},{"h":59,"s":"pH3.0","v":0.54},
      {"h":60,"s":"pH3.0","v":0.545},{"h":61,"s":"pH3.0","v":0.545},{"h":62,"s":"pH3.0","v":0.55},{"h":63,"s":"pH3.0","v":0.54},{"h":64,"s":"pH3.0","v":0.535},{"h":65,"s":"pH3.0","v":0.54},{"h":66,"s":"pH3.0","v":0.535},{"h":67,"s":"pH3.0","v":0.53},{"h":68,"s":"pH3.0","v":0.535},{"h":69,"s":"pH3.0","v":0.54},
      {"h":70,"s":"pH3.0","v":0.545},{"h":71,"s":"pH3.0","v":0.535},{"h":72,"s":"pH3.0","v":0.535},{"h":73,"s":"pH3.0","v":0.53},

      {"h":0,"s":"pH4.0","v":0.135},{"h":1,"s":"pH4.0","v":0.135},{"h":2,"s":"pH4.0","v":0.135},{"h":3,"s":"pH4.0","v":0.135},{"h":4,"s":"pH4.0","v":0.135},{"h":5,"s":"pH4.0","v":0.14},{"h":6,"s":"pH4.0","v":0.17},{"h":7,"s":"pH4.0","v":0.26},{"h":8,"s":"pH4.0","v":0.45},{"h":9,"s":"pH4.0","v":0.74},
      {"h":10,"s":"pH4.0","v":1.02},{"h":11,"s":"pH4.0","v":1.25},{"h":12,"s":"pH4.0","v":1.40},{"h":13,"s":"pH4.0","v":1.47},{"h":14,"s":"pH4.0","v":1.52},{"h":15,"s":"pH4.0","v":1.55},{"h":16,"s":"pH4.0","v":1.57},{"h":17,"s":"pH4.0","v":1.58},{"h":18,"s":"pH4.0","v":1.585},{"h":19,"s":"pH4.0","v":1.58},
      {"h":20,"s":"pH4.0","v":1.59},{"h":21,"s":"pH4.0","v":1.585},{"h":22,"s":"pH4.0","v":1.58},{"h":23,"s":"pH4.0","v":1.59},{"h":24,"s":"pH4.0","v":1.585},{"h":25,"s":"pH4.0","v":1.58},{"h":26,"s":"pH4.0","v":1.59},{"h":27,"s":"pH4.0","v":1.585},{"h":28,"s":"pH4.0","v":1.58},{"h":29,"s":"pH4.0","v":1.59},
      {"h":30,"s":"pH4.0","v":1.585},{"h":31,"s":"pH4.0","v":1.58},{"h":32,"s":"pH4.0","v":1.59},{"h":33,"s":"pH4.0","v":1.585},{"h":34,"s":"pH4.0","v":1.59},{"h":35,"s":"pH4.0","v":1.585},{"h":36,"s":"pH4.0","v":1.59},{"h":37,"s":"pH4.0","v":1.585},{"h":38,"s":"pH4.0","v":1.59},{"h":39,"s":"pH4.0","v":1.585},
      {"h":40,"s":"pH4.0","v":1.585},{"h":41,"s":"pH4.0","v":1.58},{"h":42,"s":"pH4.0","v":1.575},{"h":43,"s":"pH4.0","v":1.57},{"h":44,"s":"pH4.0","v":1.565},{"h":45,"s":"pH4.0","v":1.56},{"h":46,"s":"pH4.0","v":1.555},{"h":47,"s":"pH4.0","v":1.55},{"h":48,"s":"pH4.0","v":1.545},{"h":49,"s":"pH4.0","v":1.54},
      {"h":50,"s":"pH4.0","v":1.54},{"h":51,"s":"pH4.0","v":1.535},{"h":52,"s":"pH4.0","v":1.535},{"h":53,"s":"pH4.0","v":1.535},{"h":54,"s":"pH4.0","v":1.535},{"h":55,"s":"pH4.0","v":1.535},{"h":56,"s":"pH4.0","v":1.535},{"h":57,"s":"pH4.0","v":1.535},{"h":58,"s":"pH4.0","v":1.535},{"h":59,"s":"pH4.0","v":1.53},
      {"h":60,"s":"pH4.0","v":1.53},{"h":61,"s":"pH4.0","v":1.53},{"h":62,"s":"pH4.0","v":1.53},{"h":63,"s":"pH4.0","v":1.53},{"h":64,"s":"pH4.0","v":1.53},{"h":65,"s":"pH4.0","v":1.53},{"h":66,"s":"pH4.0","v":1.53},{"h":67,"s":"pH4.0","v":1.53},{"h":68,"s":"pH4.0","v":1.525},{"h":69,"s":"pH4.0","v":1.525},
      {"h":70,"s":"pH4.0","v":1.525},{"h":71,"s":"pH4.0","v":1.525},{"h":72,"s":"pH4.0","v":1.525},{"h":73,"s":"pH4.0","v":1.525},

      {"h":0,"s":"pH6.4","v":0.135},{"h":1,"s":"pH6.4","v":0.135},{"h":2,"s":"pH6.4","v":0.135},{"h":3,"s":"pH6.4","v":0.135},{"h":4,"s":"pH6.4","v":0.14},{"h":5,"s":"pH6.4","v":0.16},{"h":6,"s":"pH6.4","v":0.20},{"h":7,"s":"pH6.4","v":0.30},{"h":8,"s":"pH6.4","v":0.50},{"h":9,"s":"pH6.4","v":0.80},
      {"h":10,"s":"pH6.4","v":1.06},{"h":11,"s":"pH6.4","v":1.30},{"h":12,"s":"pH6.4","v":1.44},{"h":13,"s":"pH6.4","v":1.52},{"h":14,"s":"pH6.4","v":1.56},{"h":15,"s":"pH6.4","v":1.565},{"h":16,"s":"pH6.4","v":1.56},{"h":17,"s":"pH6.4","v":1.555},{"h":18,"s":"pH6.4","v":1.55},{"h":19,"s":"pH6.4","v":1.55},
      {"h":20,"s":"pH6.4","v":1.545},{"h":21,"s":"pH6.4","v":1.54},{"h":22,"s":"pH6.4","v":1.54},{"h":23,"s":"pH6.4","v":1.54},{"h":24,"s":"pH6.4","v":1.54},{"h":25,"s":"pH6.4","v":1.54},{"h":26,"s":"pH6.4","v":1.54},{"h":27,"s":"pH6.4","v":1.54},{"h":28,"s":"pH6.4","v":1.54},{"h":29,"s":"pH6.4","v":1.54},
      {"h":30,"s":"pH6.4","v":1.535},{"h":31,"s":"pH6.4","v":1.53},{"h":32,"s":"pH6.4","v":1.53},{"h":33,"s":"pH6.4","v":1.53},{"h":34,"s":"pH6.4","v":1.525},{"h":35,"s":"pH6.4","v":1.525},{"h":36,"s":"pH6.4","v":1.525},{"h":37,"s":"pH6.4","v":1.525},{"h":38,"s":"pH6.4","v":1.525},{"h":39,"s":"pH6.4","v":1.525},
      {"h":40,"s":"pH6.4","v":1.525},{"h":41,"s":"pH6.4","v":1.525},{"h":42,"s":"pH6.4","v":1.525},{"h":43,"s":"pH6.4","v":1.525},{"h":44,"s":"pH6.4","v":1.525},{"h":45,"s":"pH6.4","v":1.525},{"h":46,"s":"pH6.4","v":1.525},{"h":47,"s":"pH6.4","v":1.53},{"h":48,"s":"pH6.4","v":1.53},{"h":49,"s":"pH6.4","v":1.535},
      {"h":50,"s":"pH6.4","v":1.535},{"h":51,"s":"pH6.4","v":1.54},{"h":52,"s":"pH6.4","v":1.545},{"h":53,"s":"pH6.4","v":1.545},{"h":54,"s":"pH6.4","v":1.55},{"h":55,"s":"pH6.4","v":1.55},{"h":56,"s":"pH6.4","v":1.555},{"h":57,"s":"pH6.4","v":1.555},{"h":58,"s":"pH6.4","v":1.555},{"h":59,"s":"pH6.4","v":1.555},
      {"h":60,"s":"pH6.4","v":1.555},{"h":61,"s":"pH6.4","v":1.565},{"h":62,"s":"pH6.4","v":1.565},{"h":63,"s":"pH6.4","v":1.565},{"h":64,"s":"pH6.4","v":1.565},{"h":65,"s":"pH6.4","v":1.565},{"h":66,"s":"pH6.4","v":1.57},{"h":67,"s":"pH6.4","v":1.57},{"h":68,"s":"pH6.4","v":1.57},{"h":69,"s":"pH6.4","v":1.57},
      {"h":70,"s":"pH6.4","v":1.57},{"h":71,"s":"pH6.4","v":1.575},{"h":72,"s":"pH6.4","v":1.575},{"h":73,"s":"pH6.4","v":1.575},

      {"h":0,"s":"pH8.0","v":0.135},{"h":1,"s":"pH8.0","v":0.135},{"h":2,"s":"pH8.0","v":0.135},{"h":3,"s":"pH8.0","v":0.135},{"h":4,"s":"pH8.0","v":0.135},{"h":5,"s":"pH8.0","v":0.125},{"h":6,"s":"pH8.0","v":0.125},{"h":7,"s":"pH8.0","v":0.125},{"h":8,"s":"pH8.0","v":0.125},{"h":9,"s":"pH8.0","v":0.125},
      {"h":10,"s":"pH8.0","v":0.135},{"h":11,"s":"pH8.0","v":0.16},{"h":12,"s":"pH8.0","v":0.19},{"h":13,"s":"pH8.0","v":0.23},{"h":14,"s":"pH8.0","v":0.31},{"h":15,"s":"pH8.0","v":0.40},{"h":16,"s":"pH8.0","v":0.51},{"h":17,"s":"pH8.0","v":0.62},{"h":18,"s":"pH8.0","v":0.71},{"h":19,"s":"pH8.0","v":0.80},
      {"h":20,"s":"pH8.0","v":0.87},{"h":21,"s":"pH8.0","v":0.93},{"h":22,"s":"pH8.0","v":0.99},{"h":23,"s":"pH8.0","v":1.05},{"h":24,"s":"pH8.0","v":1.09},{"h":25,"s":"pH8.0","v":1.13},{"h":26,"s":"pH8.0","v":1.17},{"h":27,"s":"pH8.0","v":1.20},{"h":28,"s":"pH8.0","v":1.22},{"h":29,"s":"pH8.0","v":1.24},
      {"h":30,"s":"pH8.0","v":1.255},{"h":31,"s":"pH8.0","v":1.265},{"h":32,"s":"pH8.0","v":1.275},{"h":33,"s":"pH8.0","v":1.28},{"h":34,"s":"pH8.0","v":1.285},{"h":35,"s":"pH8.0","v":1.285},{"h":36,"s":"pH8.0","v":1.285},{"h":37,"s":"pH8.0","v":1.285},{"h":38,"s":"pH8.0","v":1.285},{"h":39,"s":"pH8.0","v":1.285},
      {"h":40,"s":"pH8.0","v":1.285},{"h":41,"s":"pH8.0","v":1.285},{"h":42,"s":"pH8.0","v":1.285},{"h":43,"s":"pH8.0","v":1.285},{"h":44,"s":"pH8.0","v":1.285},{"h":45,"s":"pH8.0","v":1.29},{"h":46,"s":"pH8.0","v":1.29},{"h":47,"s":"pH8.0","v":1.29},{"h":48,"s":"pH8.0","v":1.29},{"h":49,"s":"pH8.0","v":1.29},
      {"h":50,"s":"pH8.0","v":1.29},{"h":51,"s":"pH8.0","v":1.285},{"h":52,"s":"pH8.0","v":1.285},{"h":53,"s":"pH8.0","v":1.285},{"h":54,"s":"pH8.0","v":1.285},{"h":55,"s":"pH8.0","v":1.285},{"h":56,"s":"pH8.0","v":1.28},{"h":57,"s":"pH8.0","v":1.28},{"h":58,"s":"pH8.0","v":1.28},{"h":59,"s":"pH8.0","v":1.28},
      {"h":60,"s":"pH8.0","v":1.28},{"h":61,"s":"pH8.0","v":1.27},{"h":62,"s":"pH8.0","v":1.27},{"h":63,"s":"pH8.0","v":1.27},{"h":64,"s":"pH8.0","v":1.27},{"h":65,"s":"pH8.0","v":1.27},{"h":66,"s":"pH8.0","v":1.26},{"h":67,"s":"pH8.0","v":1.26},{"h":68,"s":"pH8.0","v":1.26},{"h":69,"s":"pH8.0","v":1.26},
      {"h":70,"s":"pH8.0","v":1.26},{"h":71,"s":"pH8.0","v":1.255},{"h":72,"s":"pH8.0","v":1.255},{"h":73,"s":"pH8.0","v":1.255}
    ],
    "curve": [
      {"x": 0.4, "y": 0.07}, {"x": 2, "y": 0.068}, {"x": 4, "y": 0.069}, {"x": 5.5, "y": 0.073},
      {"x": 6.5, "y": 0.08}, {"x": 7.7, "y": 0.099}, {"x": 8.7, "y": 0.123}, {"x": 9.6, "y": 0.167}, {"x": 10, "y": 0.19}
    ]
  },
  "columns": 3,
  "spacing": {"row": 33, "column": 42.5},
  "bounds": "flush",
  "resolve": {"scale": {"x": "independent", "y": "independent", "color": "independent"}, "legend": {"color": "independent"}, "axis": {"x": "independent", "y": "independent"}},
  "concat": [
    {
      "width": 86, "height": 204,
      "data": {"name": "bars"},
      "encoding": {
        "x": {"field": "g", "type": "nominal", "scale": {"domain": ["Lac24", "Lac26"], "range": [-39.5, 86.5], "paddingInner": 0, "paddingOuter": 0},
              "axis": {"values": ["Lac26"], "domain": false, "ticks": true, "tickSize": 4, "labelAngle": 0, "labelFontSize": 10, "labelPadding": 2, "title": null}},
        "xOffset": {"field": "s", "type": "nominal", "scale": {"domain": ["pH2.5", "pH3.0", "pH4.0", "pH6.4", "pH8.0"], "paddingInner": 0.26, "paddingOuter": 0.58}},
        "color": {"field": "s", "type": "nominal",
                  "scale": {"domain": ["pH2.5", "pH3.0", "pH4.0", "pH6.4", "pH8.0"], "range": ["#6e7d80", "#2b5fc4", "#f7b52c", "#5de65c", "#5650d6"]},
                  "legend": {"orient": "none", "legendX": -15, "legendY": -1, "direction": "horizontal", "title": null, "values": ["pH6.4", "pH8.0"],
                             "symbolType": "M-1,-0.4H1V0.4H-1Z", "symbolSize": 400, "symbolStrokeWidth": 0, "symbolOpacity": 1, "labelOffset": 2, "columnPadding": 5, "labelFontSize": 9}}
      },
      "layer": [
        {"mark": {"type": "bar", "clip": true},
         "encoding": {"y": {"field": "v", "type": "quantitative", "scale": {"domain": [0, 2]},
                            "axis": {"orient": "right", "values": [0], "grid": true, "gridColor": "black", "gridWidth": 1.5, "ticks": false, "labels": false, "domain": true, "title": null}}}},
        {"mark": {"type": "rule", "clip": true, "strokeWidth": 1.2},
         "encoding": {"y": {"field": "v", "type": "quantitative"}, "y2": {"field": "e"}}},
        {"mark": {"type": "tick", "clip": true, "thickness": 1.2, "size": 8},
         "encoding": {"y": {"field": "e", "type": "quantitative"}}}
      ]
    },
    {
      "width": 250, "height": 204,
      "title": {"text": "B", "dy": 26},
      "data": {"name": "lac16"},
      "encoding": {
        "x": {"field": "h", "type": "quantitative", "scale": {"domain": [0, 74.3], "nice": false, "zero": false},
              "axis": {"values": [0,5,10,15,20,25,30,35,40,45,50,55,60,65,70], "labelExpr": "datum.value == 0 ? '' : datum.value + 'h'", "labelAngle": -45, "labelFontSize": 9, "tickSize": 4, "labelPadding": 1, "labelOverlap": false, "labelFlush": false, "title": null}},
        "y": {"field": "v", "type": "quantitative", "scale": {"domain": [0, 2]},
              "axis": {"values": [0,0.2,0.4,0.6,0.8,1,1.2,1.4,1.6,1.8,2], "format": ".1f", "title": "OD600", "titleFontSize": 16, "titlePadding": 2, "labelFontSize": 10, "tickSize": 3, "labelPadding": 1, "labelOverlap": false, "labelFlush": false}},
        "color": {"field": "s", "type": "nominal",
                  "scale": {"domain": ["pH2.5", "pH3.0", "pH4.0", "pH6.4", "pH8.0"], "range": ["#3b3b3b", "#2b5cb8", "#f5b324", "#5de35a", "#5b4fde"]},
                  "legend": {"orient": "none", "legendX": 8.5, "legendY": 3, "direction": "horizontal", "title": null, "symbolSize": 39, "symbolStrokeWidth": 1.2, "labelOffset": 8, "columnPadding": 1.5, "labelFontSize": 9,
                             "encode": {"symbols": {"update": {
                               "shape": {"signal": "datum.value === 'pH2.5' ? 'M-2.9,0H2.9M-0.8,-0.8H0.8V0.8H-0.8Z' : datum.value === 'pH3.0' ? 'M-2.9,0H2.9M0.9,0A0.9,0.9,0,1,1,-0.9,0A0.9,0.9,0,1,1,0.9,0Z' : datum.value === 'pH4.0' ? 'M-2.9,0H2.9M0,-1L1,0.75H-1Z' : datum.value === 'pH6.4' ? 'M-2.9,0H2.9M0,1L1,-0.75H-1Z' : 'M-2.9,0H2.9M0,-1.1L0.9,0L0,1.1L-0.9,0Z'"},
                               "fill": {"signal": "datum.value === 'pH2.5' ? '#3b3b3b' : datum.value === 'pH3.0' ? '#2b5cb8' : datum.value === 'pH4.0' ? '#f5b324' : datum.value === 'pH6.4' ? '#5de35a' : '#5b4fde'"},
                               "stroke": {"signal": "datum.value === 'pH2.5' ? '#3b3b3b' : datum.value === 'pH3.0' ? '#2b5cb8' : datum.value === 'pH4.0' ? '#f5b324' : datum.value === 'pH6.4' ? '#5de35a' : '#5b4fde'"},
                               "strokeWidth": {"value": 1.2}, "size": {"value": 39}, "opacity": {"value": 1}}}}}}
      },
      "layer": [
        {"mark": {"type": "line", "strokeWidth": 1.5}},
        {"transform": [{"filter": "datum.s === 'pH2.5'"}], "mark": {"type": "point", "shape": "square"}},
        {"transform": [{"filter": "datum.s === 'pH3.0'"}], "mark": {"type": "point", "shape": "circle"}},
        {"transform": [{"filter": "datum.s === 'pH4.0'"}], "mark": {"type": "point", "shape": "triangle-up"}},
        {"transform": [{"filter": "datum.s === 'pH6.4'"}], "mark": {"type": "point", "shape": "triangle-down"}},
        {"transform": [{"filter": "datum.s === 'pH8.0'"}], "mark": {"type": "point", "shape": "diamond"}},
        {"data": {"values": [{"label": "Lac16"}]},
         "mark": {"type": "text", "align": "left", "baseline": "alphabetic", "fontSize": 12, "fontWeight": "bold", "font": "Liberation Serif"},
         "encoding": {"x": {"datum": 1.9}, "y": {"datum": 1.71}, "text": {"field": "label"}, "color": {"value": "black"}}}
      ]
    },
    {
      "width": 53, "height": 204,
      "title": {"text": "C", "dy": 24},
      "data": {"name": "lac22"},
      "encoding": {
        "x": {"field": "h", "type": "quantitative", "scale": {"domain": [0, 15.8], "nice": false, "zero": false},
              "axis": {"values": [0,5,10], "labelExpr": "datum.value == 0 ? '' : datum.value + 'h'", "labelAngle": -45, "labelFontSize": 9, "tickSize": 4, "labelPadding": 1, "labelOverlap": false, "labelFlush": false, "title": null}},
        "y": {"field": "v", "type": "quantitative", "scale": {"domain": [0, 1.8]},
              "axis": {"values": [0,0.3,0.6,0.9,1.2,1.5,1.8], "format": ".1f", "title": "OD600", "titleFontSize": 16, "titlePadding": 2, "labelFontSize": 10, "tickSize": 3, "labelPadding": 1, "labelOverlap": false, "labelFlush": false}},
        "color": {"field": "s", "type": "nominal",
                  "scale": {"domain": ["pH2.5", "pH3.0", "pH4.0", "pH6.4", "pH8.0"], "range": ["#3b3b3b", "#2b5cb8", "#f5b324", "#5de35a", "#5b4fde"]},
                  "legend": {"orient": "none", "legendX": 11, "legendY": 3, "direction": "horizontal", "title": null, "values": ["pH2.5"], "symbolSize": 39, "symbolStrokeWidth": 1.2, "labelOffset": 8, "columnPadding": 1.5, "labelFontSize": 9,
                             "encode": {"symbols": {"update": {
                               "shape": {"value": "M-2.9,0H2.9M-0.8,-0.8H0.8V0.8H-0.8Z"},
                               "fill": {"value": "#3b3b3b"}, "stroke": {"value": "#3b3b3b"},
                               "strokeWidth": {"value": 1.2}, "size": {"value": 39}, "opacity": {"value": 1}}}}}}
      },
      "layer": [
        {"mark": {"type": "line", "strokeWidth": 1.5}},
        {"transform": [{"filter": "datum.s === 'pH2.5'"}], "mark": {"type": "point", "shape": "square"}},
        {"transform": [{"filter": "datum.s === 'pH3.0'"}], "mark": {"type": "point", "shape": "circle"}},
        {"transform": [{"filter": "datum.s === 'pH4.0'"}], "mark": {"type": "point", "shape": "triangle-up"}},
        {"transform": [{"filter": "datum.s === 'pH6.4'"}], "mark": {"type": "point", "shape": "triangle-down"}},
        {"transform": [{"filter": "datum.s === 'pH8.0'"}], "mark": {"type": "point", "shape": "diamond"}},
        {"data": {"values": [{"label": "Lac22"}]},
         "mark": {"type": "text", "align": "left", "baseline": "alphabetic", "fontSize": 11, "fontWeight": "bold", "font": "Liberation Serif"},
         "encoding": {"x": {"datum": 1.2}, "y": {"datum": 1.63}, "text": {"field": "label"}, "color": {"value": "black"}}}
      ]
    },
    {
      "width": 86, "height": 203,
      "data": {"name": "lac24"},
      "encoding": {
        "x": {"field": "h", "type": "quantitative", "scale": {"domain": [49.3, 75], "nice": false, "zero": false},
              "axis": {"values": [50,55,60,65,70], "labelExpr": "datum.value + 'h'", "labelAngle": -45, "labelFontSize": 9, "tickSize": 4, "labelPadding": 1, "labelOverlap": false, "labelFlush": false, "title": null}},
        "y": {"field": "v", "type": "quantitative", "scale": {"domain": [0, 1.8]},
              "axis": {"orient": "right", "domain": true, "ticks": false, "labels": false, "title": null, "values": []}},
        "color": {"field": "s", "type": "nominal",
                  "scale": {"domain": ["pH2.5", "pH3.0", "pH4.0", "pH6.4", "pH8.0"], "range": ["#3b3b3b", "#2b5cb8", "#f5b324", "#5de35a", "#5b4fde"]},
                  "legend": {"orient": "none", "legendX": -4, "legendY": 3.5, "direction": "horizontal", "title": null, "values": ["pH6.4", "pH8.0"], "symbolSize": 39, "symbolStrokeWidth": 1.2, "labelOffset": 8, "columnPadding": -6, "labelFontSize": 9,
                             "encode": {"symbols": {"update": {
                               "shape": {"signal": "datum.value === 'pH6.4' ? 'M-2.9,0H2.9M0,1L1,-0.75H-1Z' : 'M-2.9,0H2.9M0,-1.1L0.9,0L0,1.1L-0.9,0Z'"},
                               "fill": {"signal": "datum.value === 'pH6.4' ? '#5de35a' : '#5b4fde'"},
                               "stroke": {"signal": "datum.value === 'pH6.4' ? '#5de35a' : '#5b4fde'"},
                               "strokeWidth": {"value": 1.2}, "size": {"value": 39}, "opacity": {"value": 1}}}}}}
      },
      "layer": [
        {"mark": {"type": "line", "strokeWidth": 1.5, "clip": true}},
        {"transform": [{"filter": "datum.s === 'pH2.5'"}], "mark": {"type": "point", "shape": "square", "clip": true}},
        {"transform": [{"filter": "datum.s === 'pH3.0'"}], "mark": {"type": "point", "shape": "circle", "clip": true}},
        {"transform": [{"filter": "datum.s === 'pH4.0'"}], "mark": {"type": "point", "shape": "triangle-up", "clip": true}},
        {"transform": [{"filter": "datum.s === 'pH6.4'"}], "mark": {"type": "point", "shape": "triangle-down", "clip": true}},
        {"transform": [{"filter": "datum.s === 'pH8.0'"}], "mark": {"type": "point", "shape": "diamond", "clip": true}}
      ]
    },
    {
      "width": 250, "height": 203,
      "title": {"text": "E", "dy": 26},
      "data": {"name": "lac26"},
      "encoding": {
        "x": {"field": "h", "type": "quantitative", "scale": {"domain": [0, 74.3], "nice": false, "zero": false},
              "axis": {"values": [0,5,10,15,20,25,30,35,40,45,50,55,60,65,70], "labelExpr": "datum.value == 0 ? '' : datum.value + 'h'", "labelAngle": -45, "labelFontSize": 9, "tickSize": 4, "labelPadding": 1, "labelOverlap": false, "labelFlush": false, "title": null}},
        "y": {"field": "v", "type": "quantitative", "scale": {"domain": [0, 1.8]},
              "axis": {"values": [0,0.3,0.6,0.9,1.2,1.5,1.8], "format": ".1f", "title": "OD600", "titleFontSize": 16, "titlePadding": 2, "labelFontSize": 10, "tickSize": 3, "labelPadding": 1, "labelOverlap": false, "labelFlush": false}},
        "color": {"field": "s", "type": "nominal",
                  "scale": {"domain": ["pH2.5", "pH3.0", "pH4.0", "pH6.4", "pH8.0"], "range": ["#3b3b3b", "#2b5cb8", "#f5b324", "#5de35a", "#5b4fde"]},
                  "legend": {"orient": "none", "legendX": 8.5, "legendY": 3, "direction": "horizontal", "title": null, "symbolSize": 39, "symbolStrokeWidth": 1.2, "labelOffset": 8, "columnPadding": 1.5, "labelFontSize": 9,
                             "encode": {"symbols": {"update": {
                               "shape": {"signal": "datum.value === 'pH2.5' ? 'M-2.9,0H2.9M-0.8,-0.8H0.8V0.8H-0.8Z' : datum.value === 'pH3.0' ? 'M-2.9,0H2.9M0.9,0A0.9,0.9,0,1,1,-0.9,0A0.9,0.9,0,1,1,0.9,0Z' : datum.value === 'pH4.0' ? 'M-2.9,0H2.9M0,-1L1,0.75H-1Z' : datum.value === 'pH6.4' ? 'M-2.9,0H2.9M0,1L1,-0.75H-1Z' : 'M-2.9,0H2.9M0,-1.1L0.9,0L0,1.1L-0.9,0Z'"},
                               "fill": {"signal": "datum.value === 'pH2.5' ? '#3b3b3b' : datum.value === 'pH3.0' ? '#2b5cb8' : datum.value === 'pH4.0' ? '#f5b324' : datum.value === 'pH6.4' ? '#5de35a' : '#5b4fde'"},
                               "stroke": {"signal": "datum.value === 'pH2.5' ? '#3b3b3b' : datum.value === 'pH3.0' ? '#2b5cb8' : datum.value === 'pH4.0' ? '#f5b324' : datum.value === 'pH6.4' ? '#5de35a' : '#5b4fde'"},
                               "strokeWidth": {"value": 1.2}, "size": {"value": 39}, "opacity": {"value": 1}}}}}}
      },
      "layer": [
        {"mark": {"type": "line", "strokeWidth": 1.5}},
        {"transform": [{"filter": "datum.s === 'pH2.5'"}], "mark": {"type": "point", "shape": "square"}},
        {"transform": [{"filter": "datum.s === 'pH3.0'"}], "mark": {"type": "point", "shape": "circle"}},
        {"transform": [{"filter": "datum.s === 'pH4.0'"}], "mark": {"type": "point", "shape": "triangle-up"}},
        {"transform": [{"filter": "datum.s === 'pH6.4'"}], "mark": {"type": "point", "shape": "triangle-down"}},
        {"transform": [{"filter": "datum.s === 'pH8.0'"}], "mark": {"type": "point", "shape": "diamond"}},
        {"data": {"values": [{"label": "Lac26"}]},
         "mark": {"type": "text", "align": "left", "baseline": "alphabetic", "fontSize": 12, "fontWeight": "bold", "font": "Liberation Serif"},
         "encoding": {"x": {"datum": 1.9}, "y": {"datum": 1.56}, "text": {"field": "label"}, "color": {"value": "black"}}}
      ]
    },
    {
      "width": 53, "height": 203,
      "layer": [
        {"data": {"name": "curve"},
         "mark": {"type": "line", "interpolate": "monotone", "color": "black", "strokeWidth": 1},
         "encoding": {
           "x": {"field": "x", "type": "quantitative", "scale": {"domain": [0, 10], "nice": false, "zero": false},
                 "axis": {"domain": true, "ticks": false, "labels": false, "title": null, "values": []}},
           "y": {"field": "y", "type": "quantitative", "scale": {"domain": [0, 1], "nice": false},
                 "axis": {"domain": true, "ticks": false, "labels": false, "values": [], "title": "OD600", "titleFontSize": 13, "titlePadding": 1, "titleY": 81}}
         }},
        {"data": {"values": [{"mark": "arrow"}]},
         "mark": {"type": "point", "shape": "M0,-1L0.42,1H-0.42Z", "filled": true, "color": "black", "size": 150, "opacity": 1},
         "encoding": {"x": {"datum": 0}, "y": {"datum": 1}}},
        {"data": {"values": [{"label": "lag phase"}]},
         "mark": {"type": "text", "align": "left", "baseline": "alphabetic", "fontSize": 9, "font": "Liberation Serif", "color": "black"},
         "encoding": {"x": {"datum": 0.2}, "y": {"datum": 0.03}, "text": {"field": "label"}}},
        {"data": {"values": [{"label": "log phase"}]},
         "mark": {"type": "text", "align": "left", "baseline": "bottom", "angle": 282, "fontSize": 8.5, "fontStyle": "italic", "font": "Liberation Serif", "color": "black"},
         "encoding": {"x": {"datum": 8.6}, "y": {"datum": 0.26}, "text": {"field": "label"}}}
      ]
    }
  ]
}
